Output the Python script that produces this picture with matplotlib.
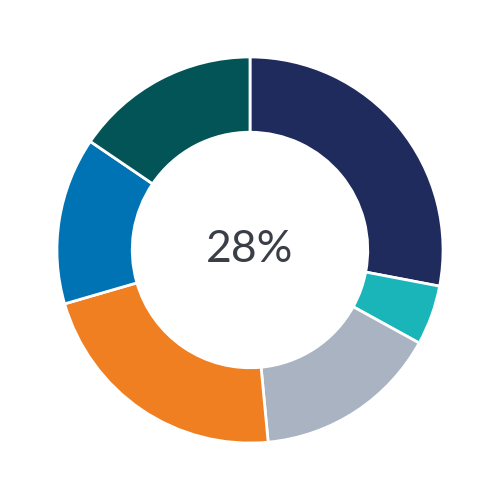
import matplotlib.pyplot as plt

# slice shares, clockwise from 12 o'clock
values = [28, 5, 15.5, 22, 14, 15.5]
colors = ['#1e2b5c', '#1ab5b8', '#a9b3c1', '#f07f22', '#0073b5', '#035456']
center_label = '28%'

fig, ax = plt.subplots(figsize=(5, 5), dpi=100)
fig.subplots_adjust(left=0, right=1, bottom=0, top=1)

ax.pie(values, colors=colors, startangle=90, counterclock=False,
       radius=1.0,
       wedgeprops=dict(width=0.39, edgecolor='white', linewidth=2))
ax.text(0, 0, center_label, ha='center', va='center', fontsize=32,
        color='#3a3f47', family='Lato')
ax.set_xlim(-1.295, 1.295)
ax.set_ylim(-1.295, 1.295)
ax.set_aspect('equal')
ax.axis('off')

fig.savefig('out.png')
